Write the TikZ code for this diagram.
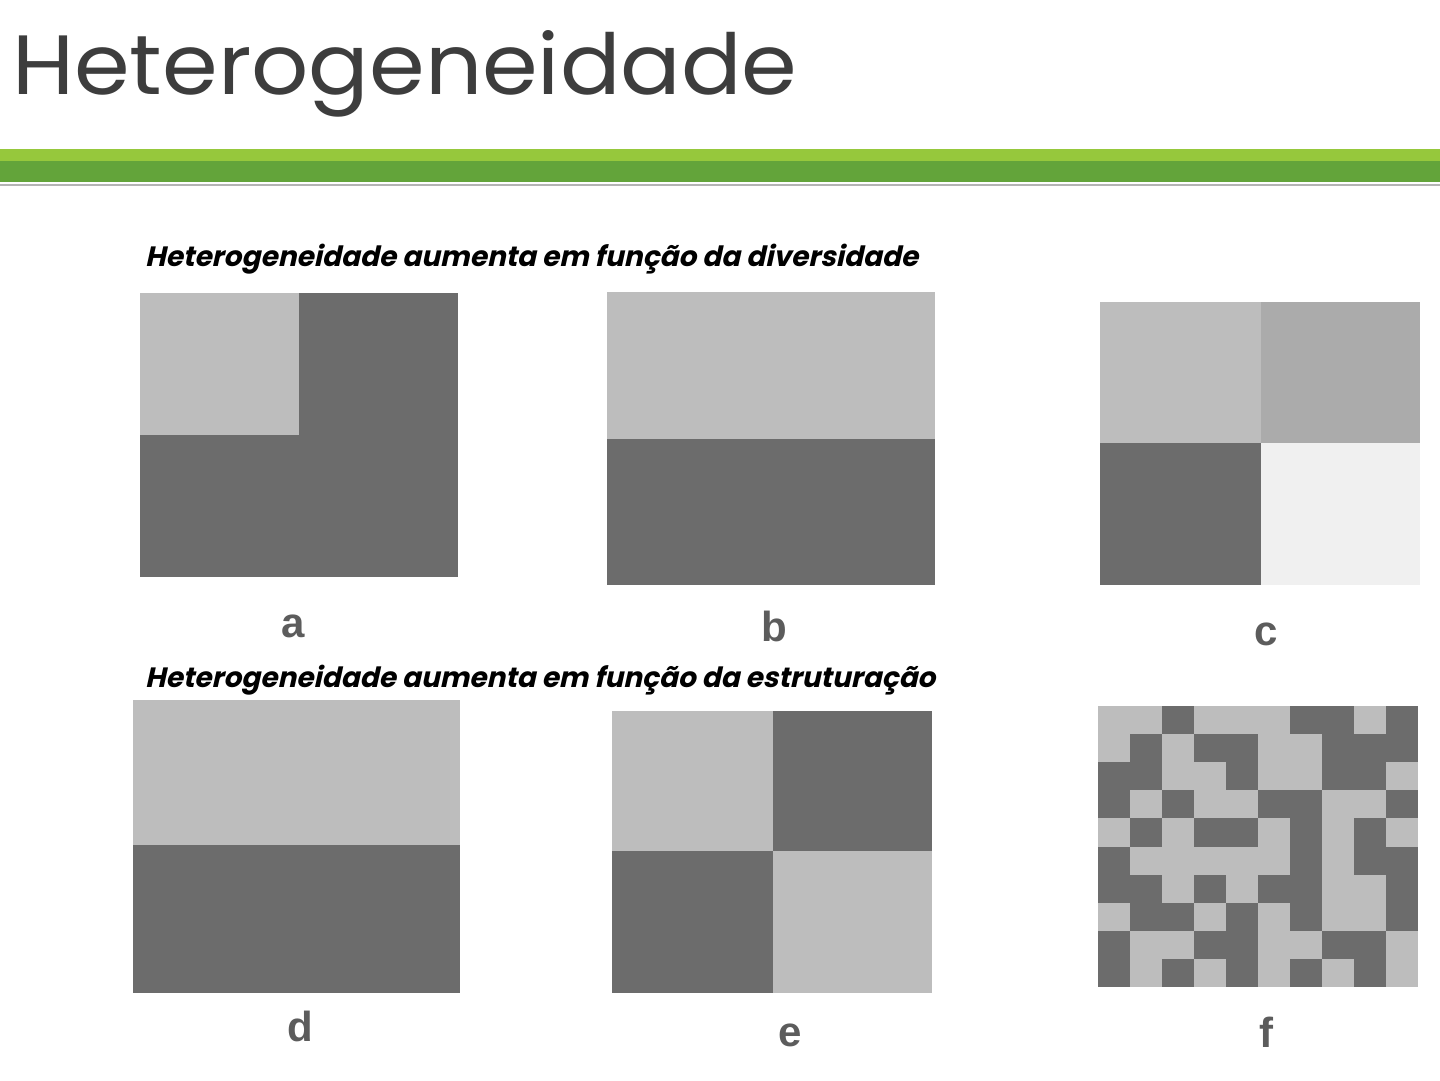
\documentclass[tikz,border=0pt]{standalone}
\usepackage{fontspec}
\setmainfont{Liberation Sans}
\newfontfamily\titlefont{Poppins}
\newfontfamily\subfont{Poppins}[FakeSlant=0.22, BoldFeatures={FakeSlant=0.22}]
\definecolor{lgreen}{HTML}{96C83C}
\definecolor{dgreen}{HTML}{63A43A}
\definecolor{rulegray}{HTML}{B4B4B4}
\definecolor{titlegray}{HTML}{3D3D3D}
\definecolor{cdark}{HTML}{6C6C6C}
\definecolor{clight}{HTML}{BDBDBD}
\definecolor{cmed}{HTML}{ABABAB}
\definecolor{cpale}{HTML}{F0F0F0}
\definecolor{labgray}{HTML}{5C5C5C}
\tikzset{
  paneltitle/.style={anchor=base west, inner sep=0pt, font=\subfont\bfseries, text=black},
  panellabel/.style={anchor=base, inner sep=0pt, font=\fontsize{42}{42}\selectfont\bfseries, text=labgray},
}
\begin{document}
\begin{tikzpicture}[x=1pt,y=-1pt]
\useasboundingbox (0,0) rectangle (1440,1080);
\fill[white] (0,0) rectangle (1440,1080);
% header bars
\fill[lgreen] (0,149) rectangle (1440,161);
\fill[dgreen] (0,161) rectangle (1440,182);
\fill[rulegray] (0,184) rectangle (1440,186);
% title
\node[anchor=base west, inner sep=0pt, text=titlegray] (title) at (12,94)
  {\resizebox{785pt}{64pt}{\titlefont Heterogeneidade}};
% subtitles
\node[paneltitle] (sub1) at (145,266) {\resizebox{773pt}{!}{Heterogeneidade aumenta em função da diversidade}};
\node[paneltitle] (sub2) at (145,687) {\resizebox{790pt}{!}{Heterogeneidade aumenta em função da estruturação}};
% panel a
\fill[cdark] (140,293) rectangle (458,577);
\fill[clight] (140,293) rectangle (299,435);
\node[panellabel] (la) at (293,637) {a};
% panel b
\fill[clight] (607,292) rectangle (935,439);
\fill[cdark] (607,439) rectangle (935,585);
\node[panellabel] (lb) at (774,641) {b};
% panel c
\fill[clight] (1100,302) rectangle (1261,443);
\fill[cmed] (1261,302) rectangle (1420,443);
\fill[cdark] (1100,443) rectangle (1261,585);
\fill[cpale] (1261,443) rectangle (1420,585);
\node[panellabel] (lc) at (1266,645) {c};
% panel d
\fill[clight] (133,700) rectangle (460,845);
\fill[cdark] (133,845) rectangle (460,993);
\node[panellabel] (ld) at (300,1041) {d};
% panel e
\fill[clight] (612,711) rectangle (773,851);
\fill[cdark] (773,711) rectangle (932,851);
\fill[cdark] (612,851) rectangle (773,993);
\fill[clight] (773,851) rectangle (932,993);
\node[panellabel] (le) at (790,1046) {e};
% panel f
\fill[clight] (1098,706) rectangle (1418,987);
\foreach \c/\r in {2/0,6/0,7/0,9/0,
                   1/1,3/1,4/1,7/1,8/1,9/1,
                   0/2,1/2,4/2,7/2,8/2,
                   0/3,2/3,5/3,6/3,9/3,
                   1/4,3/4,4/4,6/4,8/4,
                   0/5,6/5,8/5,9/5,
                   0/6,1/6,3/6,5/6,6/6,9/6,
                   1/7,2/7,4/7,6/7,9/7,
                   0/8,3/8,4/8,7/8,8/8,
                   0/9,2/9,4/9,6/9,8/9}
  \fill[cdark] ({1098+32*\c},{706+28.1*\r}) rectangle ({1098+32*(\c+1)},{706+28.1*(\r+1)});
\node[panellabel] (lf) at (1266,1047) {f};
\end{tikzpicture}
\end{document}
